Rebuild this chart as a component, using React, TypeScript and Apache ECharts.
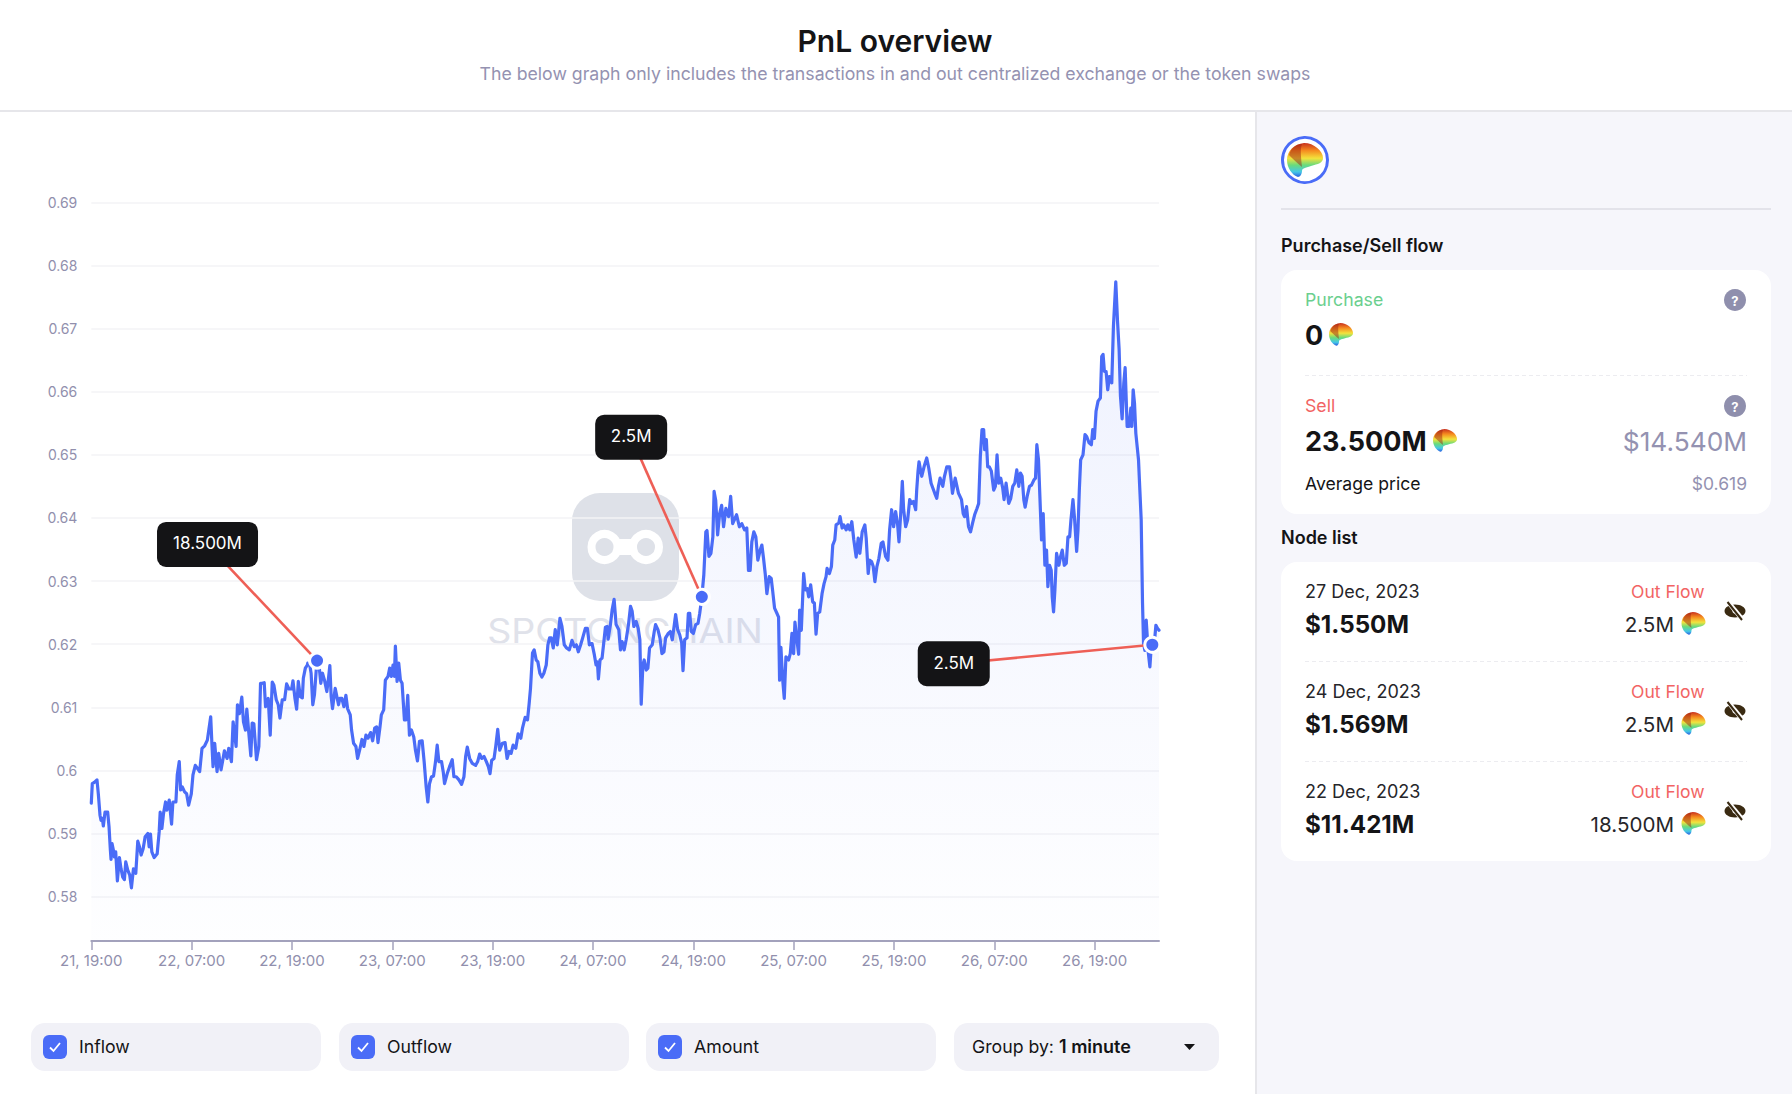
import React, { useEffect, useRef } from "react";
import * as echarts from "echarts";

// [hours since 21 Dec 19:00, token price in USD]
const priceDay1 = [[0,.5948],[.12,.5979],[.36,.5981],[.68,.5985],[.84,.5963],[1.04,.5929],[1.16,.5921],[1.32,.5924],[1.44,.5912],[1.64,.5934],[1.96,.5934],[2.12,.5911],[2.28,.5874],[2.36,.5859],[2.48,.5884],[2.64,.5874],[2.76,.5863],[2.92,.5871],[3.12,.5825],[3.36,.5862],[3.56,.5844],[3.76,.5831],[3.96,.5827],[4.12,.5855],[4.36,.5842],[4.6,.5834],[4.8,.5814],[5.04,.5844],[5.32,.5837],[5.56,.5888],[5.76,.5879],[5.96,.5866],[6.2,.5876],[6.44,.5895],[6.76,.59],[6.92,.5879],[7.08,.5899],[7.24,.5871],[7.52,.5862],[7.88,.5868],[8.12,.5903],[8.24,.5934],[8.44,.5908],[8.64,.5932],[8.88,.595],[9.04,.5937],[9.32,.5953],[9.6,.5915],[9.76,.595],[10.12,.595],[10.28,.5993],[10.52,.6014],[10.68,.5969],[10.88,.5974],[11.16,.5966],[11.4,.5963],[11.64,.5945],[11.96,.5963],[12.16,.5993],[12.44,.6008],[12.72,.6003],[12.96,.5998],[13.24,.6035],[13.56,.6039],[13.88,.6048],[14.28,.6085],[14.44,.6038],[14.56,.6006],[14.76,.6043],[15.04,.5998],[15.24,.6027],[15.52,.6001],[15.76,.6019],[15.92,.6031],[16.24,.6019],[16.44,.6035],[16.76,.6014],[16.96,.6077],[17.32,.6038],[17.48,.6104],[17.72,.609],[18,.6116],[18.2,.6077],[18.44,.6064],[18.6,.6097],[18.84,.6059],[19.08,.6023],[19.24,.6075],[19.44,.6074],[19.76,.6017],[20.04,.6038],[20.24,.6138],[20.44,.6138],[20.68,.6139],[20.84,.6101],[21.16,.6114],[21.4,.6056],[21.64,.614],[21.84,.6135],[22.12,.6112],[22.36,.6104],[22.56,.6083],[22.84,.6112],[23.12,.6112],[23.36,.6137],[23.64,.6129],[23.96,.6129],[24.12,.6142],[24.36,.6114],[24.56,.6097],[24.76,.6141],[25,.6117],[25.24,.6115],[25.36,.6146],[25.6,.6162],[25.84,.6167]];
const priceDay2 = [[25.89,.617],[26.13,.6167],[26.29,.6154],[26.49,.6104],[26.69,.612],[26.89,.6157],[27,.6174],[27.25,.6165],[27.45,.6138],[27.65,.6154],[27.89,.6143],[28.17,.6125],[28.37,.6146],[28.53,.6166],[28.69,.6117],[28.85,.6098],[29.17,.613],[29.37,.6117],[29.57,.6104],[29.73,.6114],[29.97,.6114],[30.21,.6101],[30.45,.6119],[30.65,.6098],[30.97,.6088],[31.13,.6064],[31.37,.6043],[31.65,.6038],[31.85,.6019],[32.09,.6032],[32.37,.6049],[32.61,.6038],[32.85,.6056],[33.09,.6051],[33.41,.606],[33.65,.6047],[33.89,.6067],[34.13,.6069],[34.29,.6044],[34.53,.6069],[34.69,.6088],[34.97,.6096],[35.17,.6143],[35.49,.6149],[35.69,.6162],[35.89,.6149],[36.09,.6167],[36.25,.6149],[36.37,.6197],[36.57,.6141],[36.77,.617],[36.97,.6143],[37.17,.6138],[37.45,.608],[37.65,.608],[37.85,.6119],[38.05,.6056],[38.29,.6064],[38.57,.6053],[38.77,.6032],[39.01,.6015],[39.25,.6046],[39.57,.6047],[39.81,.6014],[40.05,.5974],[40.25,.595],[40.45,.5979],[40.69,.599],[40.93,.5991],[41.17,.6014],[41.37,.604],[41.57,.6014],[41.89,.6014],[42.09,.5998],[42.25,.5979],[42.57,.5995],[42.85,.6006],[43.17,.6017],[43.37,.599],[43.65,.599],[43.97,.5985],[44.29,.5978],[44.57,.599],[44.77,.6022],[44.97,.6037],[45.25,.6019],[45.57,.6011],[45.97,.6008],[46.21,.6014],[46.45,.6026],[46.69,.6019],[46.97,.6022],[47.25,.6014],[47.49,.6006],[47.69,.5995],[47.89,.6016],[48.17,.6019],[48.37,.6038],[48.61,.6065],[48.85,.6032],[49.17,.6043],[49.49,.6044],[49.73,.6019],[49.97,.603],[50.21,.6027],[50.45,.604],[50.77,.6035],[51.05,.6058],[51.37,.6051],[51.57,.6067],[51.89,.6084],[52.17,.608],[52.37,.6106]];
const priceDay3 = [[52.53,.613],[52.77,.6186],[52.97,.6191],[53.21,.6175],[53.41,.6172],[53.65,.6154],[53.89,.6148],[54.13,.6154],[54.41,.6167],[54.61,.6199],[54.81,.621],[55.01,.621],[55.25,.6194],[55.49,.6223],[55.73,.6199],[56.05,.6241],[56.29,.6228],[56.57,.6199],[56.85,.6194],[57.17,.6191],[57.49,.6206],[57.77,.6196],[58.01,.6199],[58.25,.6188],[58.53,.6199],[58.77,.621],[59.09,.6225],[59.33,.6225],[59.57,.6199],[59.89,.6201],[60.17,.6183],[60.37,.6167],[60.53,.6172],[60.65,.6145],[60.85,.6175],[61.09,.6178],[61.33,.6207],[61.49,.6227],[61.69,.6228],[61.81,.6208],[62.09,.6231],[62.29,.6254],[62.53,.6271],[62.77,.6231],[63.09,.6223],[63.29,.6191],[63.49,.6204],[63.73,.6191],[63.97,.6207],[64.25,.6231],[64.49,.626],[64.69,.6252],[64.89,.6228],[65.17,.6236],[65.41,.6225],[65.61,.6207],[65.77,.6105],[65.97,.6167],[66.13,.6175],[66.37,.6159],[66.57,.6162],[66.77,.6194],[67.09,.6199],[67.33,.622],[67.49,.6231],[67.77,.6223],[68.01,.621],[68.25,.6185],[68.49,.6188],[68.69,.621],[69.01,.6217],[69.25,.622],[69.49,.6207],[69.73,.6231],[69.89,.6247],[70.13,.6223],[70.37,.6215],[70.61,.6202],[70.77,.6158],[70.97,.6207],[71.25,.621],[71.41,.6249],[71.57,.6249],[71.77,.622],[72.01,.6217],[72.29,.6231],[72.57,.6233],[72.77,.6249],[72.93,.6265],[73.02,.6275],[73.26,.631],[73.5,.6378],[73.64,.638],[73.87,.6339],[74.11,.6344],[74.34,.637],[74.49,.6442],[74.68,.6428],[74.91,.6373],[75.15,.6407],[75.39,.642],[75.62,.6386],[75.9,.6415],[76.23,.6402],[76.47,.6434],[76.71,.6391],[77.18,.6405],[77.51,.6386],[77.8,.6391],[78.13,.6381]];
const priceDay4 = [[78.4,.6384],[78.6,.6317],[78.8,.6317],[79,.6362],[79.24,.6378],[79.48,.637],[79.72,.6333],[80,.6349],[80.2,.6357],[80.4,.6336],[80.6,.6312],[80.8,.628],[81.08,.6307],[81.32,.6304],[81.48,.6286],[81.72,.6257],[82,.6249],[82.2,.6243],[82.32,.6143],[82.48,.6195],[82.68,.6146],[82.88,.6114],[83.08,.618],[83.4,.6175],[83.6,.6185],[83.8,.6217],[84,.6185],[84.16,.6235],[84.4,.6206],[84.6,.6184],[84.72,.6254],[84.92,.6222],[85.2,.6312],[85.4,.6286],[85.64,.6288],[85.8,.6275],[86.04,.6294],[86.28,.6267],[86.48,.6265],[86.68,.6216],[86.88,.6249],[87.12,.6251],[87.4,.628],[87.64,.6296],[87.88,.6307],[88,.632],[88.28,.6312],[88.52,.6323],[88.68,.6357],[88.92,.6365],[89.08,.6389],[89.4,.6392],[89.56,.6402],[89.8,.6384],[90,.6389],[90.28,.6381],[90.48,.6389],[90.72,.6381],[90.96,.6394],[91.2,.6365],[91.48,.6338],[91.72,.6368],[91.92,.6344],[92.2,.6378],[92.52,.6389],[92.68,.6368],[92.92,.6312],[93.08,.6333],[93.32,.6331],[93.52,.6323],[93.72,.6299],[93.96,.6323],[94.2,.6336],[94.48,.636],[94.68,.6362],[95,.6339],[95.28,.6333],[95.48,.6381],[95.72,.6413],[95.96,.6386],[96.2,.641],[96.44,.6389],[96.6,.6362],[96.8,.6405],[97,.6458],[97.16,.6413],[97.4,.6386],[97.64,.6397],[97.88,.6429],[98.12,.6423],[98.32,.6426],[98.6,.6413],[98.72,.6444],[98.88,.6474],[99,.6489],[99.32,.6466],[99.6,.6481],[99.92,.6495],[100.16,.6479],[100.44,.6455],[100.88,.6439],[101.12,.6431],[101.32,.645],[101.52,.6463],[101.84,.645],[102.04,.6466],[102.32,.6481],[102.64,.6481],[102.84,.646],[103,.6439],[103.32,.6463],[103.72,.6439],[104.08,.6429],[104.28,.6407],[104.44,.6402],[104.68,.6418],[104.92,.6386],[105.16,.6378]];
const priceDay5 = [[105.41,.6392],[105.65,.6405],[105.93,.6415],[106.13,.6423],[106.33,.6497],[106.53,.654],[106.73,.654],[106.85,.6508],[107.05,.6524],[107.21,.6481],[107.41,.6481],[107.65,.6474],[107.93,.6444],[108.13,.645],[108.33,.65],[108.53,.6455],[108.77,.6463],[109.01,.6447],[109.17,.6429],[109.41,.6455],[109.73,.6423],[109.97,.6431],[110.21,.645],[110.45,.6455],[110.69,.6476],[110.93,.645],[111.13,.6471],[111.33,.6466],[111.53,.6429],[111.69,.6417],[111.93,.6434],[112.21,.645],[112.45,.6452],[112.73,.646],[112.93,.6463],[113.09,.6516],[113.29,.6492],[113.53,.6407],[113.65,.6365],[113.85,.6407],[114.05,.6325],[114.25,.6349],[114.41,.6291],[114.61,.6325],[114.81,.6317],[114.93,.6275],[115.09,.6251],[115.25,.6286],[115.45,.6344],[115.73,.6325],[115.93,.6339],[116.13,.6349],[116.37,.6325],[116.61,.6328],[116.81,.637],[117.01,.637],[117.17,.6397],[117.41,.6429],[117.61,.6397],[117.85,.6347],[118.01,.6381],[118.17,.6444],[118.33,.6492],[118.61,.65],[118.85,.6532],[119.05,.6529],[119.33,.6519],[119.61,.6516],[119.77,.654],[119.97,.6526],[120.17,.6569],[120.41,.6585],[120.69,.659],[120.85,.6656],[121.01,.6659],[121.17,.6632],[121.37,.6632],[121.57,.6603],[121.77,.6624],[122.05,.6614],[122.25,.6704],[122.53,.6774],[122.73,.6714],[122.93,.6667],[123.09,.6593],[123.29,.6557],[123.49,.6614],[123.65,.6638],[123.89,.6545],[124.13,.6545],[124.33,.6574],[124.45,.6545],[124.61,.6603],[124.77,.6582],[124.93,.6534],[125.09,.6513],[125.25,.6492],[125.41,.6444],[125.57,.6397],[125.73,.6265],[125.85,.6201],[126.01,.619],[126.17,.6238],[126.41,.6188],[126.61,.6164],[126.77,.6196],[126.9,.6199],[127.17,.6206],[127.33,.623],[127.53,.6225],[127.7,.6222]];

const tickLabels = ["21, 19:00", "22, 07:00", "22, 19:00", "23, 07:00", "23, 19:00", "24, 07:00", "24, 19:00", "25, 07:00", "25, 19:00", "26, 07:00", "26, 19:00"];

const nodeHours = [27, 73.02, 126.9];
const nodePrices = [0.6174, 0.6275, 0.6199];
const nodeLabels = ["18.500M", "2.5M", "2.5M"];
const calloutHours = [13.9, 64.57, 103.15];
const calloutPrices = [0.6358, 0.6528, 0.6169];

const nodeDates = ["27 Dec, 2023", "24 Dec, 2023", "22 Dec, 2023"];
const nodeUsd = ["$1.550M", "$1.569M", "$11.421M"];
const nodeAmounts = ["2.5M", "2.5M", "18.500M"];
const toggles = ["Inflow", "Outflow", "Amount"];

const INK = "#141416";
const MUTED = "#9492B1";
const BLUE = "#4A6CF7";
const RED = "#F26464";
const FONT = "Inter";

echarts.graphic.registerShape("coinLogo", echarts.graphic.extendPath("M0 17C0 8 7 1 17 0C27 0 36 8 36 15C36 20 31 21 24 23C18 25 15 25 15 28C15 31 13 34 11 34C5 32 0 25 0 17Z", {}) as any);
echarts.graphic.registerShape("coinFold", echarts.graphic.extendPath("M2 12C4 5 9 1 15 1C13 6 14 14 15 24C9 19 5 15 2 12Z", {}) as any);

const rainbow = () => new echarts.graphic.LinearGradient(0, 0, 0, 1, [
  { offset: 0, color: "#C8301E" },
  { offset: 0.22, color: "#F58A1F" },
  { offset: 0.45, color: "#F3E23C" },
  { offset: 0.65, color: "#69DB7C" },
  { offset: 0.85, color: "#45C8E6" },
  { offset: 1, color: "#2A5FE0" },
]);

function text(t: string, x: number, y: number, size: number, fill: string, weight: number | string = 400, align = "left"): any {
  return { type: "text", x, y, silent: true, style: { text: t, fontFamily: FONT, fontSize: size, fontWeight: weight, fill, align, verticalAlign: "middle" } };
}
function box(x: number, y: number, width: number, height: number, r: number, fill: string, z = 0): any {
  return { type: "rect", z, silent: true, shape: { x, y, width, height, r }, style: { fill } };
}
function dashed(x1: number, x2: number, y: number): any {
  return { type: "line", silent: true, shape: { x1, y1: y, x2, y2: y }, style: { stroke: "#ECECF0", lineWidth: 1, lineDash: [4, 3] } };
}
function coin(x: number, y: number, size: number): any[] {
  const s = size / 36;
  return [
    { type: "coinLogo", x, y, scaleX: s, scaleY: s, silent: true, style: { fill: rainbow() } },
    { type: "coinFold", x, y, scaleX: s, scaleY: s, silent: true, style: { fill: "rgba(150,25,15,0.45)" } },
  ];
}
function help(y: number): any[] {
  return [
    { type: "circle", silent: true, shape: { cx: 1735, cy: y, r: 11 }, style: { fill: "#8F8FAD" } },
    text("?", 1735, y + 0.5, 13, "#FFFFFF", 700, "center"),
  ];
}
function eyeOff(cx: number, cy: number): any[] {
  const dark = "#3A2A12";
  return [
    { type: "ellipse", silent: true, shape: { cx, cy, rx: 10.5, ry: 6.5 }, style: { fill: dark } },
    { type: "circle", silent: true, shape: { cx, cy, r: 2.6 }, style: { fill: "#FFFFFF" } },
    { type: "line", silent: true, shape: { x1: cx - 6.5, y1: cy - 8.5, x2: cx + 7.5, y2: cy + 8.5 }, style: { stroke: "#FFFFFF", lineWidth: 4.5 } },
    { type: "line", silent: true, shape: { x1: cx - 7.5, y1: cy - 9, x2: cx + 7, y2: cy + 9 }, style: { stroke: dark, lineWidth: 2 } },
  ];
}

function pageGraphics(): any[] {
  const g: any[] = [];
  // header
  g.push(text("PnL overview", 895, 40.5, 30, INK, 600, "center"));
  g.push(text("The below graph only includes the transactions in and out centralized exchange or the token swaps", 895, 73.5, 17.7, MUTED, 400, "center"));
  // side panel
  g.push(box(1256, 111, 536, 983, 0, "#F6F6FB"));
  g.push({ type: "rect", silent: true, shape: { x: 0, y: 110, width: 1792, height: 2 }, style: { fill: "#E6E6EA" } });
  g.push({ type: "rect", silent: true, shape: { x: 1255, y: 111, width: 2, height: 983 }, style: { fill: "#E6E6EA" } });
  g.push({ type: "circle", silent: true, shape: { cx: 1305, cy: 160, r: 22.5 }, style: { fill: "#FFFFFF", stroke: BLUE, lineWidth: 3 } });
  g.push(...coin(1287, 143, 36));
  g.push(box(1281, 208, 490, 2, 0, "#E3E3EA"));

  g.push(text("Purchase/Sell flow", 1281, 245.5, 18, INK, 600));
  g.push(box(1281, 270, 490, 244, 16, "#FFFFFF"));
  g.push(text("Purchase", 1305, 299, 17.7, "#6BCF8E"));
  g.push(...help(300));
  g.push(text("0", 1305, 335.5, 27, INK, 700));
  g.push(...coin(1329, 323, 24));
  g.push(dashed(1305, 1747, 375.5));
  g.push(text("Sell", 1305, 405, 17.7, RED));
  g.push(...help(406));
  g.push(text("23.500M", 1305, 441, 27, INK, 700));
  g.push(...coin(1433, 429, 24));
  g.push(text("$14.540M", 1747, 441, 26.3, MUTED, 400, "right"));
  g.push(text("Average price", 1305, 483, 17.6, INK));
  g.push(text("$0.619", 1747, 483, 17.5, MUTED, 400, "right"));

  g.push(text("Node list", 1281, 537.5, 18, INK, 600));
  g.push(box(1281, 562, 490, 299, 16, "#FFFFFF"));
  nodeDates.forEach((d, i) => {
    const y = i * 100;
    g.push(text(d, 1305, 591.5 + y, 18, "#26262A"));
    g.push(text(nodeUsd[i], 1305, 624 + y, 24.2, INK, 700));
    g.push(text("Out Flow", 1704.5, 591.5 + y, 17.5, RED, 400, "right"));
    g.push(text(nodeAmounts[i], 1674, 624 + y, 20.6, "#26262A", 400, "right"));
    g.push(...coin(1681.5, 612 + y, 24));
    g.push(...eyeOff(1735, 611 + y));
    if (i < 2) g.push(dashed(1305, 1747, 661.5 + y));
  });

  // controls
  const toggleX = [31, 339, 646];
  toggles.forEach((label, i) => {
    const x = toggleX[i];
    g.push(box(x, 1023, 290, 48, 14, "#F1F1F7"));
    g.push(box(x + 12, 1035, 24, 24, 6, BLUE));
    g.push({ type: "polyline", silent: true, shape: { points: [[x + 19, 1047.5], [x + 22.5, 1051], [x + 29, 1043]] }, style: { stroke: "#FFFFFF", lineWidth: 1.8, fill: "none" } });
    g.push(text(label, x + 48, 1046, 17.7, INK));
  });
  g.push(box(954, 1023, 265, 48, 14, "#F1F1F7"));
  g.push(text("Group by: ", 972, 1046, 17.7, INK));
  g.push(text("1 minute", 1059, 1046, 18, INK, 600));
  g.push({ type: "polygon", silent: true, shape: { points: [[1184, 1044], [1195, 1044], [1189.5, 1050]] }, style: { fill: INK } });

  // watermark, drawn under the series
  g.push(box(572, 493, 107, 108, 28, "#DEE1E8", 0));
  g.push({ type: "rect", silent: true, shape: { x: 604, y: 539, width: 42, height: 16 }, style: { fill: "#FFFFFF" } });
  [604.5, 646].forEach((cx) => {
    g.push({ type: "circle", silent: true, shape: { cx, cy: 547, r: 13 }, style: { fill: "#DEE1E8", stroke: "#FFFFFF", lineWidth: 8 } });
  });
  g.push({ type: "text", x: 625, y: 631, scaleX: 1.106, silent: true, style: { text: "SPOTONCHAIN", fontFamily: FONT, fontSize: 34, fontWeight: 400, fill: "#E0E2EA", align: "center", verticalAlign: "middle" } });
  return g;
}

export default function App() {
  const ref = useRef<HTMLDivElement>(null);
  useEffect(() => {
    const chart = echarts.init(ref.current!, undefined, { renderer: "svg" });
    const series = [...priceDay1, ...priceDay2, ...priceDay3, ...priceDay4, ...priceDay5];
    chart.setOption({
      animation: false,
      backgroundColor: "#FFFFFF",
      textStyle: { fontFamily: FONT },
      graphic: { elements: pageGraphics() },
      grid: { left: 91.3, right: 633, top: 202.3, bottom: 134.2, containLabel: false },
      xAxis: {
        type: "value",
        min: 0,
        max: 127.7,
        interval: 12,
        offset: -18.8,
        axisLine: { show: true, onZero: false, lineStyle: { color: "#A3A2BC", width: 2 } },
        axisTick: { show: true, length: 9, lineStyle: { color: "#A3A2BC", width: 1.5 } },
        splitLine: { show: false },
        axisLabel: {
          color: "#918FAD",
          fontSize: 15,
          fontFamily: FONT,
          margin: 12,
          showMaxLabel: false,
          formatter: (v: number) => tickLabels[Math.round(v / 12)] ?? "",
        },
      },
      yAxis: {
        type: "value",
        min: 0.57,
        max: 0.69,
        interval: 0.01,
        axisLine: { show: false },
        axisTick: { show: false },
        splitLine: { show: true, showMinLine: false, lineStyle: { color: "#F3F3F6", width: 1.5 } },
        axisLabel: { color: "#918FAD", fontSize: 14, fontFamily: FONT, margin: 14, showMinLabel: false, padding: [0, 0, 2, 0] },
      },
      series: [
        {
          type: "line",
          name: "Price",
          data: series,
          showSymbol: false,
          symbol: "none",
          silent: true,
          smooth: false,
          z: 3,
          lineStyle: { color: BLUE, width: 3.2, join: "round", cap: "round" },
          areaStyle: {
            origin: 0.573,
            color: new echarts.graphic.LinearGradient(0, 0, 0, 1, [
              { offset: 0, color: "rgba(74,108,247,0.13)" },
              { offset: 1, color: "rgba(74,108,247,0.01)" },
            ]),
          },
        },
        {
          type: "custom",
          name: "Callouts",
          z: 4,
          silent: true,
          clip: false,
          data: nodeHours.map((h, i) => [h, nodePrices[i], calloutHours[i], calloutPrices[i]]),
          renderItem: (params: any, api: any) => {
            const from = api.coord([api.value(2), api.value(3)]);
            const to = api.coord([api.value(0), api.value(1)]);
            const label = nodeLabels[params.dataIndex];
            const w = label.length > 4 ? 101 : 72;
            const h = 45;
            return {
              type: "group",
              children: [
                { type: "line", shape: { x1: from[0], y1: from[1], x2: to[0], y2: to[1] }, style: { stroke: "#EE5F56", lineWidth: 2.6 } },
                { type: "rect", shape: { x: from[0] - w / 2, y: from[1] - h / 2, width: w, height: h, r: 9 }, style: { fill: "#141416" } },
                { type: "text", x: from[0], y: from[1] - 1, style: { text: label, fill: "#FFFFFF", fontFamily: FONT, fontSize: 17, align: "center", verticalAlign: "middle" } },
              ],
            };
          },
        },
        {
          type: "scatter",
          name: "Nodes",
          z: 5,
          silent: true,
          symbol: "circle",
          symbolSize: 15,
          data: nodeHours.map((h, i) => [h, nodePrices[i]]),
          itemStyle: { color: BLUE, borderColor: "#FFFFFF", borderWidth: 3, opacity: 1 },
        },
      ],
    });
    return () => chart.dispose();
  }, []);
  return <div ref={ref} style={{ position: "fixed", left: 0, top: 0, width: 1792, height: 1094 }} />;
}
